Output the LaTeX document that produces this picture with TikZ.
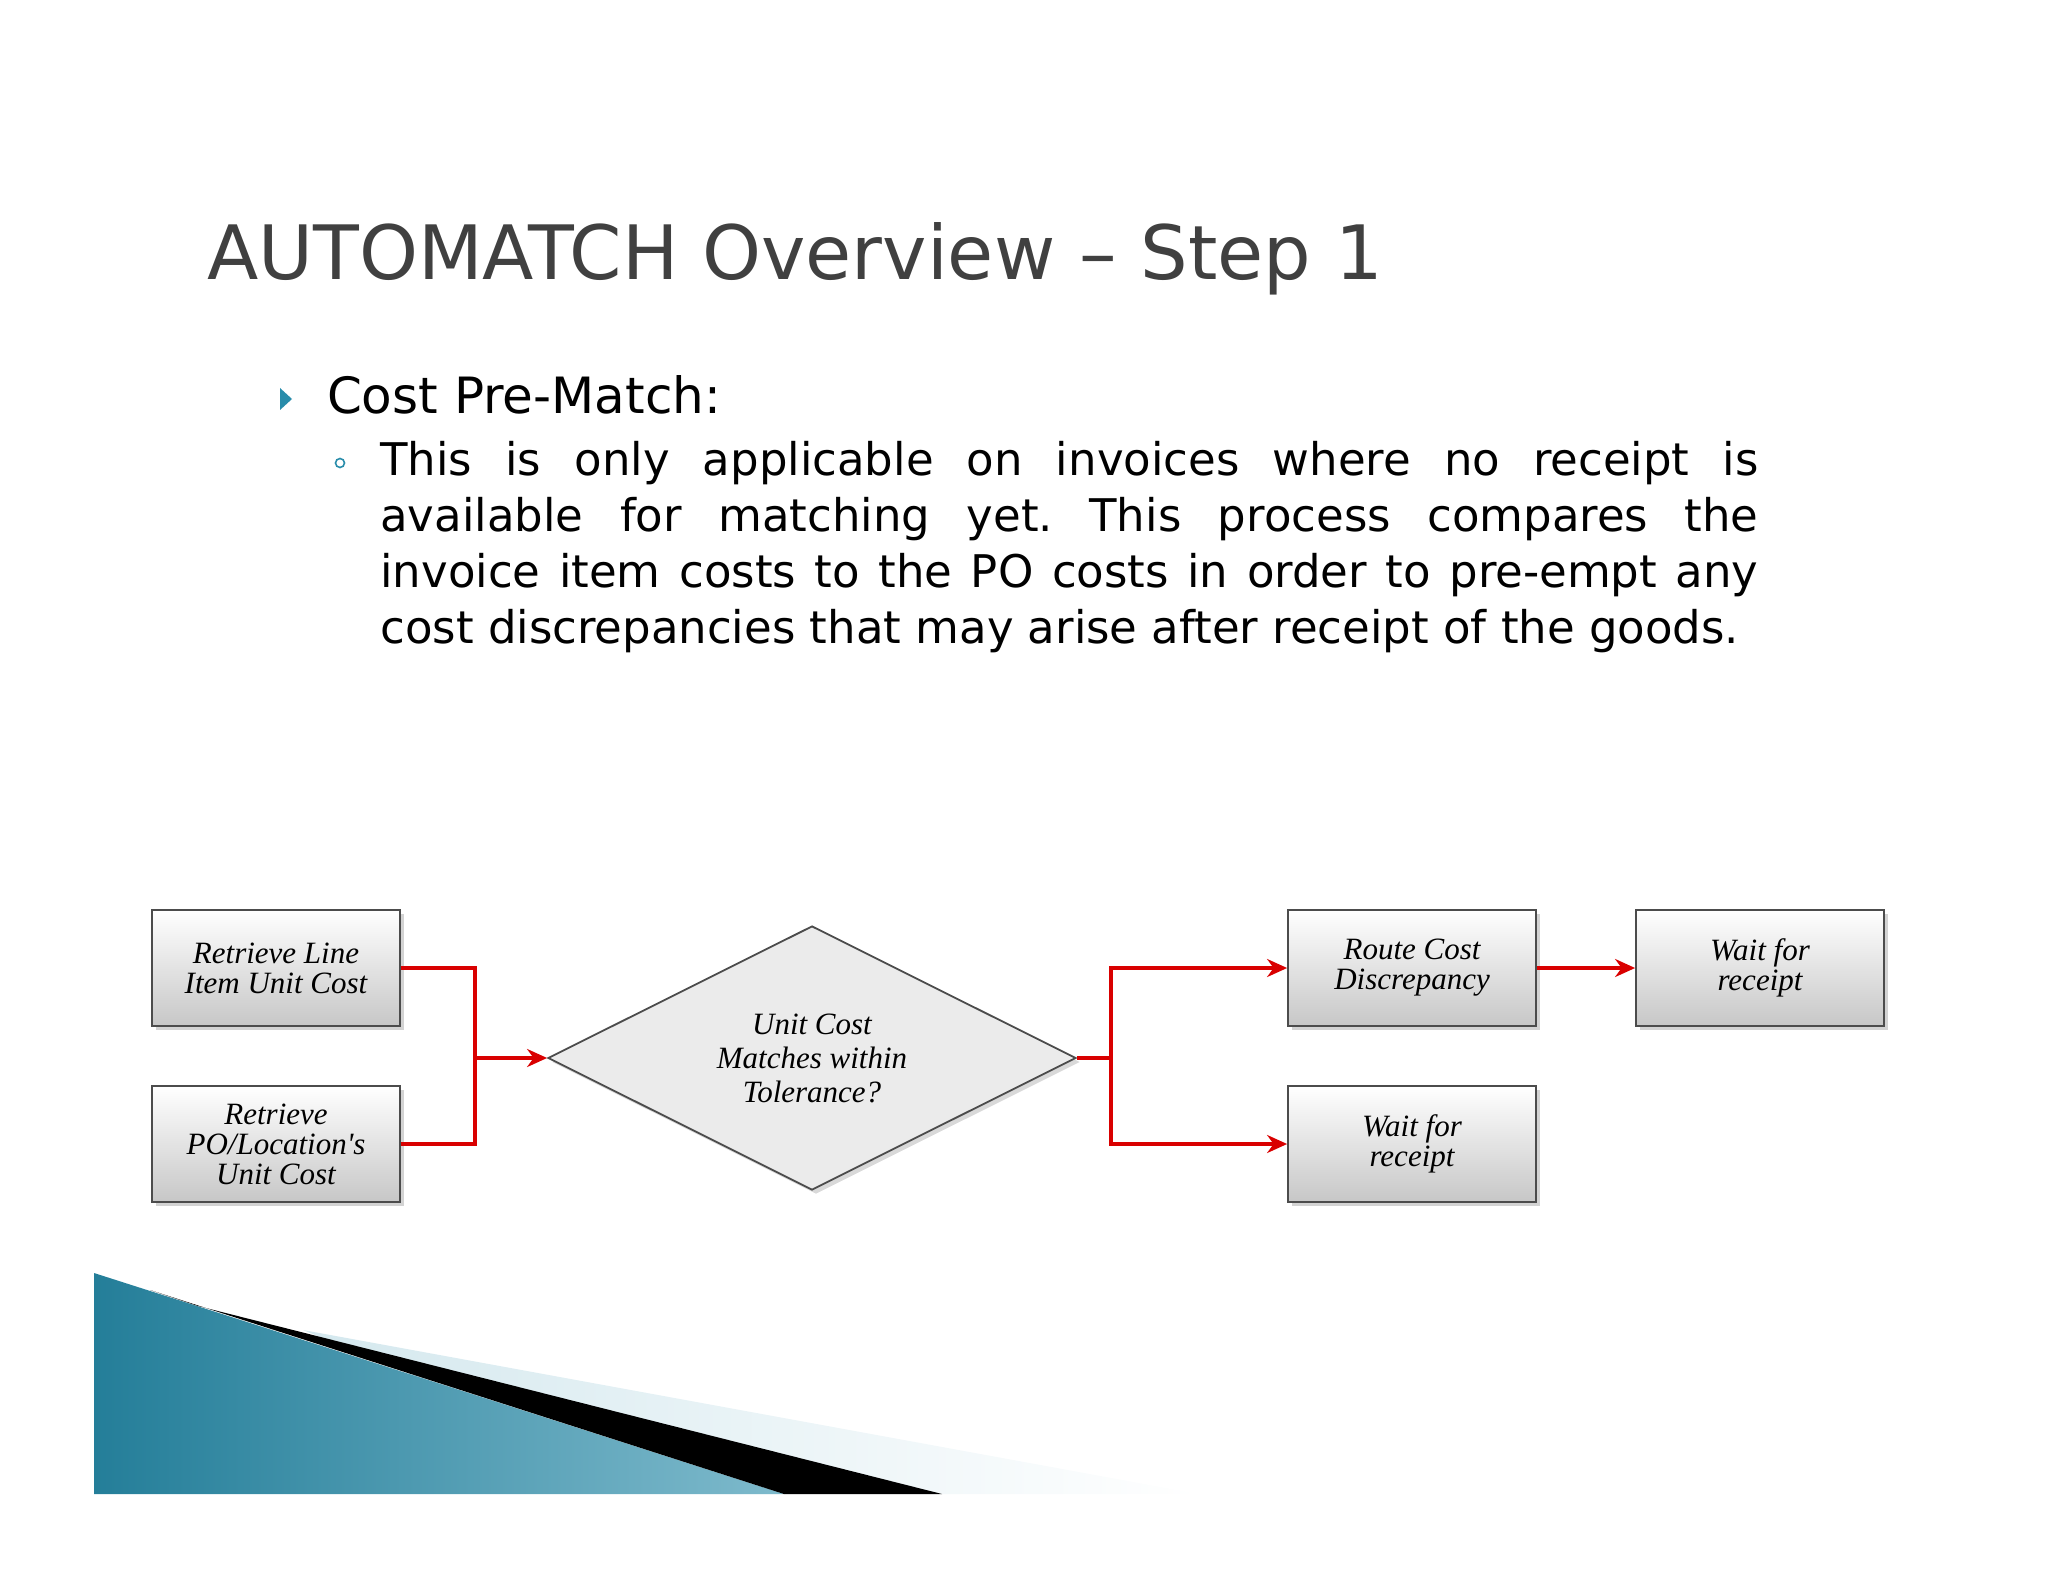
\documentclass[tikz,border=0pt]{standalone}
\usepackage{fontspec}
\setmainfont{DejaVu Sans}
\newfontfamily\boxfont{Liberation Serif}
\usetikzlibrary{shapes.geometric,shadows,arrows.meta}
\definecolor{teal1}{RGB}{40,140,170}
\tikzset{
 pbox/.style={draw=black!70,line width=0.9pt,minimum width=124pt,minimum height=58pt,top color=white,bottom color=black!22,drop shadow={opacity=0.35,shadow xshift=2pt,shadow yshift=-2pt},font=\boxfont\itshape\fontsize{15.5}{15}\selectfont,align=center,inner sep=1pt},
 conn/.style={red!85!black,line width=1.6pt},
 arr/.style={conn,-{Stealth[length=10pt,width=9pt]}}
}
\begin{document}
\frenchspacing
\begin{tikzpicture}[x=0.5pt,y=-0.5pt]
\useasboundingbox (0,0) rectangle (2048,1582);
\node[anchor=west,text=black!75,font=\fontsize{37.5}{37.5}\selectfont] (title) at (200,259) {AUTOMATCH Overview – Step 1};
\fill[teal1] (280,388) -- (292,399) -- (280,410) -- cycle;
\node[anchor=west,font=\fontsize{25}{25}\selectfont] (h) at (320,395) {Cost Pre-Match:};
\draw[teal1,line width=0.8pt] (340,463) circle (4.5);
\node[anchor=north west,inner sep=0pt,font=\fontsize{22.5}{28}\selectfont] (p) at (380,441) {\parbox{689pt}{\frenchspacing This is only applicable on invoices where no receipt is\linebreak available for matching yet. This process compares the\linebreak invoice item costs to the PO costs in order to pre-empt any\linebreak cost discrepancies that may arise after receipt of the goods.}};
% boxes
\node[pbox] (r1) at (276,968) {Retrieve Line\\Item Unit Cost};
\node[pbox] (r2) at (276,1144) {Retrieve\\PO/Location's\\Unit Cost};
\node[diamond,draw=black!70,line width=0.9pt,fill=black!8,aspect=2,minimum width=264pt,minimum height=132pt,inner sep=0pt,drop shadow={opacity=0.3,shadow xshift=2pt,shadow yshift=-2pt},font=\boxfont\itshape\fontsize{15.5}{17}\selectfont,align=center] (d) at (812,1058) {Unit Cost\\Matches within\\Tolerance?};
\node[pbox] (rc) at (1412,968) {Route Cost\\Discrepancy};
\node[pbox] (w1) at (1760,968) {Wait for\\receipt};
\node[pbox] (w2) at (1412,1144) {Wait for\\receipt};
\coordinate (j1) at (475,1058);
\coordinate (j2) at (1111,1058);
\draw[conn] (r1.east) -| (j1);
\draw[conn] (r2.east) -| (j1);
\draw[arr] (j1) -- (d.west);
\draw[conn] (d.east) -- (j2);
\draw[arr] (j2) |- (rc.west);
\draw[arr] (j2) |- (w2.west);
\draw[arr] (rc.east) -- (w1.west);
% decoration
\shade[left color=teal1!20,right color=white] (303,1330) -- (1199,1494) -- (700,1494) -- cycle;
\shade[left color=teal1!90!black,right color=teal1!60] (94,1273) -- (784,1494) -- (94,1494) -- cycle;
\fill[black] (198,1306) -- (942,1494) -- (784,1494) -- (150,1290) -- cycle;
\end{tikzpicture}
\end{document}
